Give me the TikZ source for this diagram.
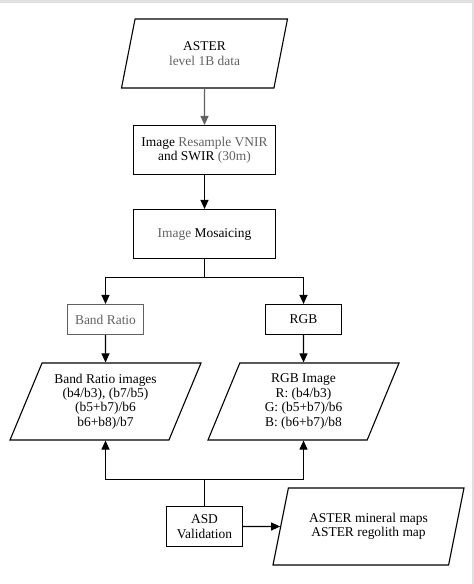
\documentclass[tikz,border=0pt]{standalone}
\usepackage{fontspec}
\setmainfont{Liberation Serif}
\usepackage{xcolor}
\usetikzlibrary{arrows.meta, shapes.geometric, positioning}

\definecolor{softgray}{gray}{0.38}
\definecolor{framegray}{gray}{0.88}

\tikzset{
  every node/.style={font=\fontsize{13.5}{14.5}\selectfont, align=center},
  databox/.style={draw, line width=1.1bp, trapezium, trapezium left angle=60,
                  trapezium right angle=120, trapezium stretches body,
                  inner sep=0pt},
  procbox/.style={draw, line width=1.1bp, rectangle, inner sep=0pt},
  flow/.style={line width=1.1bp, -{Triangle[length=9bp,width=8bp]}},
  link/.style={line width=1.1bp},
}

\begin{document}
\begin{tikzpicture}[x=1bp, y=-1bp]
\useasboundingbox (0,0) rectangle (474,584);
\fill[framegray] (0,0) rectangle (474,3);
\fill[framegray] (472,0) rectangle (474,584);

%
\node[databox, minimum width=166bp, minimum height=69bp] (aster) at (204.5,53.5)
  {ASTER\\ \textcolor{softgray}{level 1B data}};
\node[procbox, minimum width=142bp, minimum height=49bp] (resample) at (204.5,150)
  {Image \textcolor{softgray}{Resample VNIR}\\ and SWIR \textcolor{softgray}{(30m)}};
\node[procbox, minimum width=142bp, minimum height=49bp] (mosaic) at (204.5,234)
  {\textcolor{softgray}{Image} Mosaicing};

\node[procbox, draw=softgray, minimum width=76bp, minimum height=30bp] (ratio) at (105.5,319.5)
  {\textcolor{softgray}{Band Ratio}};
\node[procbox, minimum width=76bp, minimum height=30bp] (rgb) at (303.5,319.5) {RGB};

\node[databox, minimum width=191bp, minimum height=77bp] (ratioimg) at (105.5,401.5)
  {Band Ratio images\\ (b4/b3), (b7/b5)\\ (b5+b7)/b6\\ b6+b8)/b7};
\node[databox, minimum width=191bp, minimum height=77bp] (rgbimg) at (303.5,401.5)
  {RGB Image\\ R: (b4/b3)\\ G: (b5+b7)/b6\\ B: (b6+b7)/b8};

\node[procbox, minimum width=76bp, minimum height=40bp] (asd) at (204.5,526.5)
  {ASD\\ Validation};
\node[databox, minimum width=191bp, minimum height=77bp] (maps) at (368.5,526.5)
  {ASTER mineral maps\\ ASTER regolith map};

\coordinate (split) at (204.5,277.5);
\coordinate (join) at (204.5,479.5);

%
\draw[flow, draw=softgray, fill=softgray] (aster.south) -- (resample.north);
\draw[flow] (resample.south) -- (mosaic.north);
\draw[link] (mosaic.south) -- (split);
\draw[flow] (split) -| (ratio.north);
\draw[flow] (split) -| (rgb.north);
\draw[flow] (ratio.south) -- (ratioimg.north);
\draw[flow] (rgb.south) -- (rgbimg.north);
\draw[link] (asd.north) -- (join);
\draw[flow] (join) -| (ratioimg.south);
\draw[flow] (join) -| (rgbimg.south);
\draw[flow] (asd.east) -- (maps.west);

%
\end{tikzpicture}
\end{document}
